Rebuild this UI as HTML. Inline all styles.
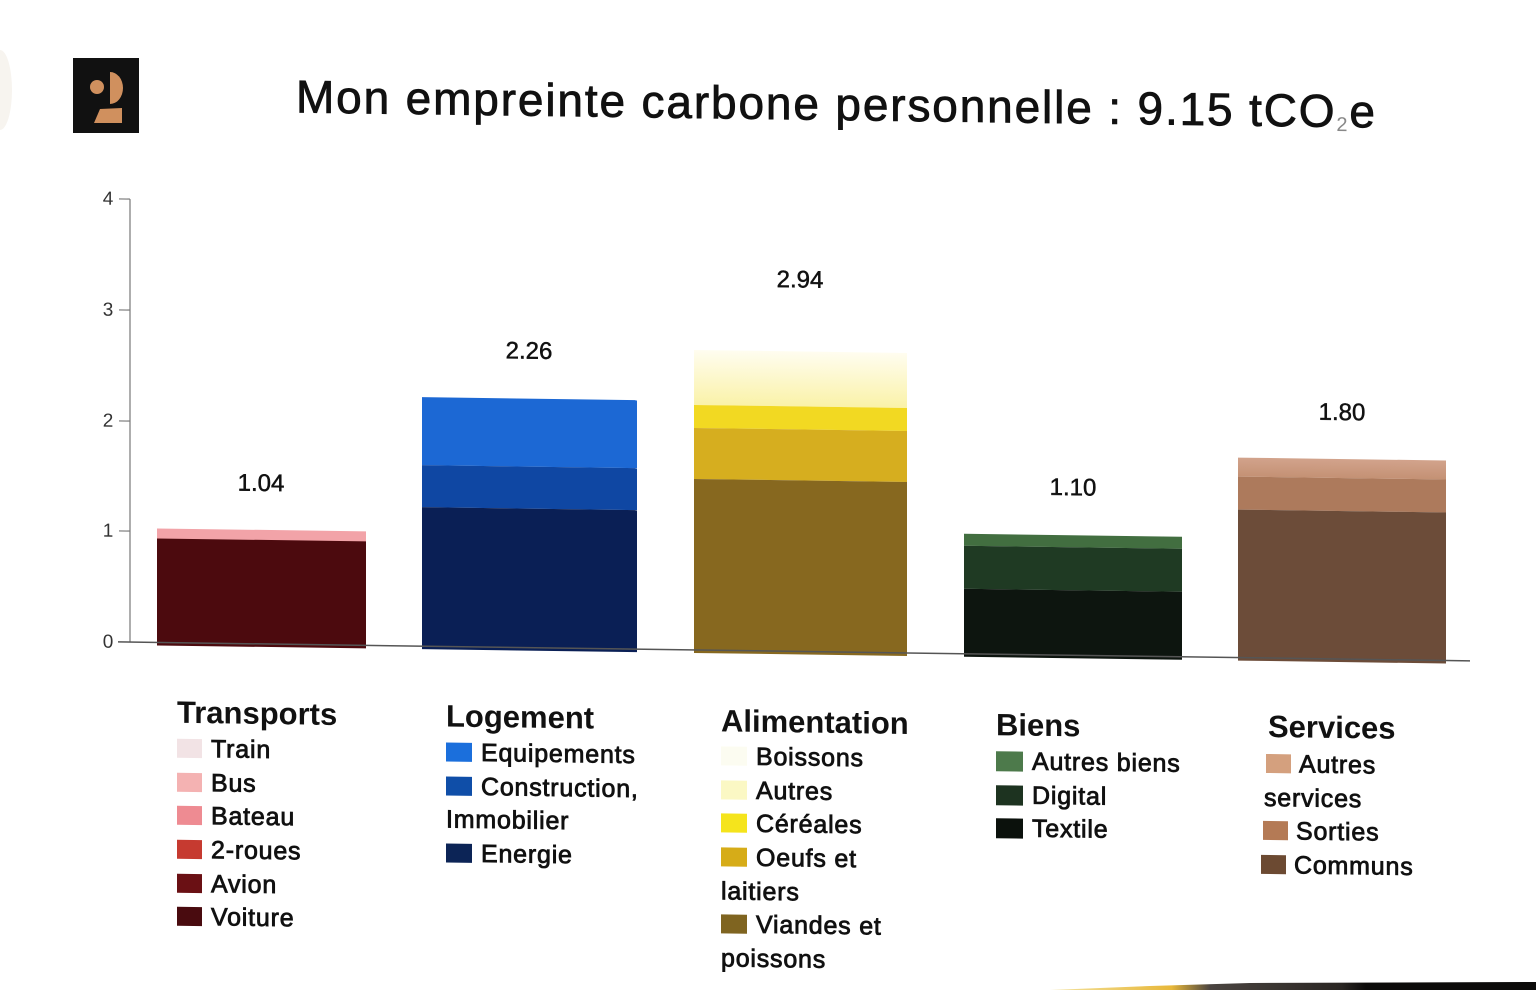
<!DOCTYPE html>
<html><head><meta charset="utf-8"><style>
html,body{margin:0;padding:0;background:#fff;}
svg{display:block;}
text{font-family:"Liberation Sans",sans-serif;}
.it{font-size:25px;fill:#111;stroke:#111;stroke-width:0.8;letter-spacing:0.8px;}
.tt{font-size:31px;font-weight:bold;fill:#111;}
.vl{font-size:24px;fill:#111;stroke:#111;stroke-width:0.5;text-anchor:middle;}
.tk{font-size:19px;fill:#333;text-anchor:middle;}
</style></head><body>
<svg width="1536" height="990" viewBox="0 0 1536 990" xmlns="http://www.w3.org/2000/svg">
<rect width="1536" height="990" fill="#ffffff"/>
<ellipse cx="0" cy="90" rx="12" ry="40" fill="#f7f4ef"/>
<!-- logo -->
<rect x="73" y="58" width="66" height="75" fill="#111111"/>
<circle cx="97" cy="87" r="7" fill="#d0905e"/>
<path d="M110 72 A13 16 0 0 1 110 104 Z" fill="#d0905e"/>
<path d="M100 109 L122 108 L122 123 L94 123 Z" fill="#d0905e"/>
<defs>
<linearGradient id="bs" x1="0" x2="1" y1="0" y2="0">
<stop offset="0" stop-color="#f3e3a0"/>
<stop offset="0.25" stop-color="#e8b83a"/>
<stop offset="0.33" stop-color="#4a4440"/>
<stop offset="0.6" stop-color="#2a2623"/>
<stop offset="0.65" stop-color="#0c0b0a"/>
<stop offset="1" stop-color="#0c0b0a"/>
</linearGradient>
<linearGradient id="top" x1="0" x2="0" y1="0" y2="1">
<stop offset="0" stop-color="#fffdf0"/>
<stop offset="1" stop-color="#faf2a8"/>
</linearGradient>
<linearGradient id="srv" x1="0" x2="0" y1="0" y2="1">
<stop offset="0" stop-color="#d2a38c"/>
<stop offset="1" stop-color="#c49174"/>
</linearGradient>
</defs>
<path d="M1050 990 L1150 986 L1250 983 L1536 982 L1536 990 Z" fill="url(#bs)"/>
<g transform="matrix(1 0.014 0 1 0 -10.75)">
<!-- title -->
<text x="296" y="119" font-size="46" fill="#111" stroke="#111" stroke-width="0.8" textLength="1079" lengthAdjust="spacing">Mon empreinte carbone personnelle : 9.15 tCO<tspan font-size="20" fill="#888" stroke="none" dy="4">2</tspan><tspan dy="-4">e</tspan></text>
<!-- axis -->
<line x1="130" y1="208" x2="130" y2="651" stroke="#777" stroke-width="1.2"/>
<line x1="119" y1="208" x2="130" y2="208" stroke="#777" stroke-width="1.2"/>
<line x1="119" y1="319" x2="130" y2="319" stroke="#777" stroke-width="1.2"/>
<line x1="119" y1="430" x2="130" y2="430" stroke="#777" stroke-width="1.2"/>
<line x1="119" y1="540" x2="130" y2="540" stroke="#777" stroke-width="1.2"/>
<text class="tk" x="108" y="214">4</text>
<text class="tk" x="108" y="325">3</text>
<text class="tk" x="108" y="436">2</text>
<text class="tk" x="108" y="546">1</text>
<text class="tk" x="108" y="657">0</text>
<!-- bars -->
<rect x="157" y="537" width="209" height="11" fill="#f2a3a8"/>
<rect x="157" y="547" width="209" height="107" fill="#4c0a0e"/>

<rect x="422" y="402" width="215" height="68" fill="#1c68d4"/>
<rect x="422" y="470" width="215" height="42" fill="#0f47a3"/>
<rect x="422" y="512" width="215" height="142" fill="#0a1f55"/>

<rect x="694" y="351" width="213" height="55" fill="url(#top)"/>
<rect x="694" y="406" width="213" height="23" fill="#f2d922"/>
<rect x="694" y="429" width="213" height="51" fill="#d6ae1f"/>
<rect x="694" y="480" width="213" height="174" fill="#87681f"/>

<rect x="964" y="531" width="218" height="12" fill="#426e40"/>
<rect x="964" y="543" width="218" height="43" fill="#1f3a23"/>
<rect x="964" y="586" width="218" height="68" fill="#0d150f"/>

<rect x="1238" y="451" width="208" height="19" fill="url(#srv)"/>
<rect x="1238" y="470" width="208" height="33" fill="#ad7a5c"/>
<rect x="1238" y="503" width="208" height="151" fill="#6c4c39"/>

<line x1="118" y1="651" x2="1470" y2="651" stroke="#555" stroke-width="1.5"/>
<!-- value labels -->
<text class="vl" x="261" y="498">1.04</text>
<text class="vl" x="529" y="362">2.26</text>
<text class="vl" x="800" y="287">2.94</text>
<text class="vl" x="1073" y="491">1.10</text>
<text class="vl" x="1342" y="412">1.80</text>
<!-- legend: Transports -->
<text class="tt" x="177" y="731">Transports</text>
<rect x="177" y="747" width="25" height="19" fill="#f2e3e5"/><text class="it" x="211" y="765">Train</text>
<rect x="177" y="781" width="25" height="19" fill="#f4b2b2"/><text class="it" x="211" y="799">Bus</text>
<rect x="177" y="814" width="25" height="19" fill="#ee8b92"/><text class="it" x="211" y="832">Bateau</text>
<rect x="177" y="848" width="25" height="19" fill="#c63a30"/><text class="it" x="211" y="866">2-roues</text>
<rect x="177" y="882" width="25" height="19" fill="#6a1014"/><text class="it" x="211" y="900">Avion</text>
<rect x="177" y="915" width="25" height="19" fill="#490b0f"/><text class="it" x="211" y="933">Voiture</text>
<!-- Logement -->
<text class="tt" x="446" y="731">Logement</text>
<rect x="446" y="747" width="26" height="19" fill="#1b6fdc"/><text class="it" x="481" y="765">Equipements</text>
<rect x="446" y="781" width="26" height="19" fill="#0f4ea8"/><text class="it" x="481" y="799">Construction,</text>
<text class="it" x="446" y="832">Immobilier</text>
<rect x="446" y="848" width="26" height="19" fill="#0c2456"/><text class="it" x="481" y="866">Energie</text>
<!-- Alimentation -->
<text class="tt" x="721" y="732">Alimentation</text>
<rect x="721" y="747" width="26" height="19" fill="#fcfcf1"/><text class="it" x="756" y="765">Boissons</text>
<rect x="721" y="781" width="26" height="19" fill="#fbf8c4"/><text class="it" x="756" y="799">Autres</text>
<rect x="721" y="814" width="26" height="19" fill="#f5e41c"/><text class="it" x="756" y="832">Céréales</text>
<rect x="721" y="848" width="26" height="19" fill="#d6ac18"/><text class="it" x="756" y="866">Oeufs et</text>
<text class="it" x="721" y="900">laitiers</text>
<rect x="721" y="915" width="26" height="19" fill="#7f6420"/><text class="it" x="756" y="933">Viandes et</text>
<text class="it" x="721" y="967">poissons</text>
<!-- Biens -->
<text class="tt" x="996" y="732">Biens</text>
<rect x="996" y="748" width="27" height="20" fill="#4d7a4b"/><text class="it" x="1032" y="766">Autres biens</text>
<rect x="996" y="782" width="27" height="20" fill="#1d3320"/><text class="it" x="1032" y="800">Digital</text>
<rect x="996" y="815" width="27" height="20" fill="#0b110c"/><text class="it" x="1032" y="833">Textile</text>
<!-- Services -->
<text class="tt" x="1268" y="730">Services</text>
<rect x="1266" y="747" width="25" height="19" fill="#d4a07e"/><text class="it" x="1299" y="765">Autres</text>
<text class="it" x="1264" y="799">services</text>
<rect x="1263" y="814" width="25" height="19" fill="#b47a55"/><text class="it" x="1296" y="832">Sorties</text>
<rect x="1261" y="848" width="25" height="19" fill="#6c4a32"/><text class="it" x="1294" y="866">Communs</text>
</g>
</svg>
</body></html>
